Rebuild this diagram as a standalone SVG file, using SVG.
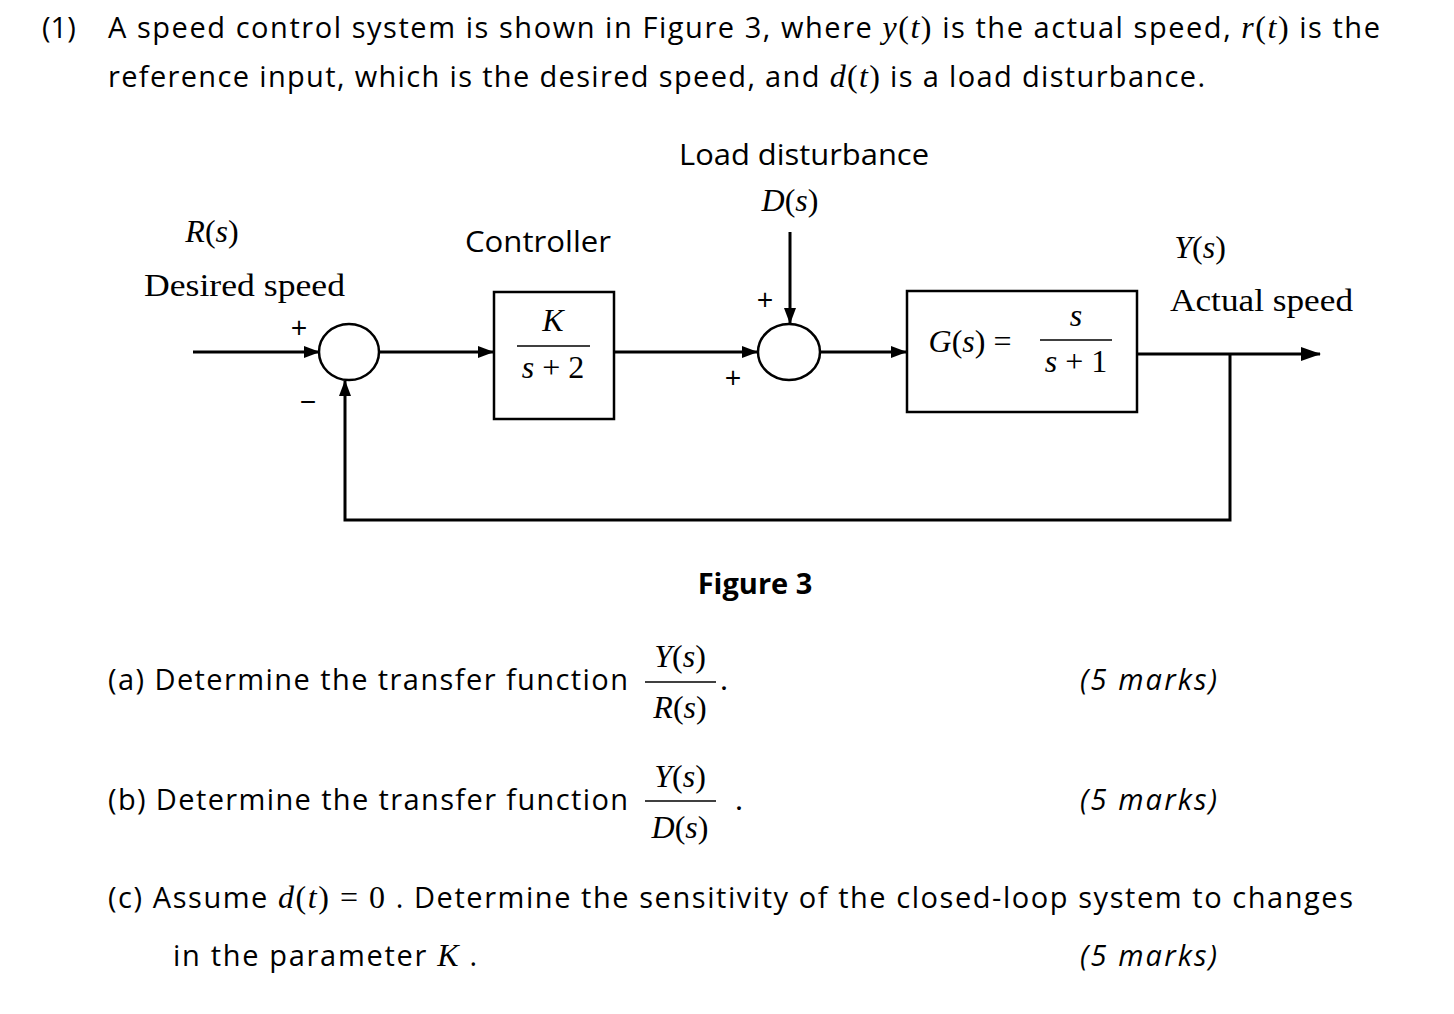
<svg xmlns="http://www.w3.org/2000/svg" width="1454" height="1014" viewBox="0 0 1454 1014">
<style>
.t{font-family:"Open Sans","Liberation Sans",sans-serif;font-size:29px;fill:#000}
.m{font-family:"Liberation Serif",serif;font-size:32px;fill:#000}
.i{font-style:italic}
.ln{stroke:#000;stroke-width:3;fill:none}
.bx{stroke:#000;stroke-width:2.5;fill:#fff}
</style>
<defs><marker id="a" markerWidth="16" markerHeight="12" refX="15" refY="6" orient="auto" markerUnits="userSpaceOnUse" viewBox="0 0 16 12"><path d="M0,0L16,6L0,12z" fill="#000"/></marker>
<marker id="b" markerWidth="20" markerHeight="14" refX="19" refY="7" orient="auto" markerUnits="userSpaceOnUse" viewBox="0 0 20 14"><path d="M0,0L20,7L0,14z" fill="#000"/></marker></defs>
<rect width="1454" height="1014" fill="#fff"/>
<text class="t" x="42" y="38">(1)</text>
<text class="t" x="108" y="38" textLength="1272" lengthAdjust="spacing">A speed control system is shown in Figure 3, where  <tspan class="m i">y</tspan><tspan class="m">(</tspan><tspan class="m i">t</tspan><tspan class="m">)</tspan>  is the actual speed,  <tspan class="m i">r</tspan><tspan class="m">(</tspan><tspan class="m i">t</tspan><tspan class="m">)</tspan>  is the</text>
<text class="t" x="108" y="87" textLength="1097" lengthAdjust="spacing">reference input, which is the desired speed, and  <tspan class="m i">d</tspan><tspan class="m">(</tspan><tspan class="m i">t</tspan><tspan class="m">)</tspan>  is a load disturbance.</text>
<g id="connectors">
<line class="ln" x1="193" y1="352" x2="319" y2="352" marker-end="url(#a)"/>
<line class="ln" x1="379" y1="352" x2="493" y2="352" marker-end="url(#a)"/>
<line class="ln" x1="614" y1="352" x2="757" y2="352" marker-end="url(#a)"/>
<line class="ln" x1="790" y1="232" x2="790" y2="323" marker-end="url(#a)"/>
<line class="ln" x1="820" y1="352" x2="906" y2="352" marker-end="url(#a)"/>
<line class="ln" x1="1137" y1="354" x2="1320" y2="354" marker-end="url(#b)"/>
<polyline class="ln" points="1230,354 1230,520 345,520 345,381" marker-end="url(#a)"/>
</g>
<g id="sum1"><ellipse class="bx" cx="349" cy="352" rx="30" ry="28"/><text class="t" x="299" y="338" text-anchor="middle" font-size="22">+</text><text class="t" x="308" y="412" text-anchor="middle" font-size="24">−</text></g>
<g id="controller"><rect class="bx" x="494" y="292" width="120" height="127"/>
<text class="m i" x="553" y="331" text-anchor="middle">K</text><line x1="517" y1="346" x2="590" y2="346" stroke="#000" stroke-width="1.5"/><text class="m" x="553" y="378" text-anchor="middle"><tspan class="i">s</tspan> + 2</text>
<text class="t" x="465" y="252" textLength="146" lengthAdjust="spacingAndGlyphs">Controller</text></g>
<g id="sum2"><ellipse class="bx" cx="789" cy="352" rx="31" ry="28"/><text class="t" x="733" y="388" text-anchor="middle" font-size="22">+</text><text class="t" x="765" y="310" text-anchor="middle" font-size="22">+</text></g>
<g id="disturbance"><text class="t" x="679" y="165" textLength="250" lengthAdjust="spacingAndGlyphs">Load disturbance</text><text class="m" x="790" y="211" text-anchor="middle"><tspan class="i">D</tspan>(<tspan class="i">s</tspan>)</text></g>
<g id="plant"><rect class="bx" x="907" y="291" width="230" height="121"/>
<text class="m" x="970" y="352" text-anchor="middle"><tspan class="i">G</tspan>(<tspan class="i">s</tspan>) =</text><text class="m i" x="1076" y="326" text-anchor="middle">s</text><line x1="1040" y1="340" x2="1112" y2="340" stroke="#000" stroke-width="1.5"/><text class="m" x="1076" y="372" text-anchor="middle"><tspan class="i">s</tspan> + 1</text></g>
<g id="input"><text class="m" x="212" y="242" text-anchor="middle"><tspan class="i">R</tspan>(<tspan class="i">s</tspan>)</text><text class="m" x="144" y="296" textLength="201" lengthAdjust="spacingAndGlyphs">Desired speed</text></g>
<g id="output"><text class="m" x="1200" y="258" text-anchor="middle"><tspan class="i">Y</tspan>(<tspan class="i">s</tspan>)</text><text class="m" x="1170" y="311" textLength="183" lengthAdjust="spacingAndGlyphs">Actual speed</text></g>
<text class="t" x="755" y="594" text-anchor="middle" font-weight="bold">Figure 3</text>
<text class="t" x="108" y="690" textLength="520" lengthAdjust="spacing">(a)  Determine the transfer function</text>
<text class="m" x="680" y="667" text-anchor="middle"><tspan class="i">Y</tspan>(<tspan class="i">s</tspan>)</text><line x1="645" y1="682" x2="716" y2="682" stroke="#000" stroke-width="1.5"/><text class="m" x="680" y="718" text-anchor="middle"><tspan class="i">R</tspan>(<tspan class="i">s</tspan>)</text><text class="m" x="720" y="690">.</text>
<text class="t i" x="1080" y="690" textLength="137">(5 marks)</text>
<text class="t" x="108" y="810" textLength="520" lengthAdjust="spacing">(b)  Determine the transfer function</text>
<text class="m" x="680" y="787" text-anchor="middle"><tspan class="i">Y</tspan>(<tspan class="i">s</tspan>)</text><line x1="645" y1="801" x2="716" y2="801" stroke="#000" stroke-width="1.5"/><text class="m" x="680" y="838" text-anchor="middle"><tspan class="i">D</tspan>(<tspan class="i">s</tspan>)</text><text class="m" x="735" y="810">.</text>
<text class="t i" x="1080" y="810" textLength="137">(5 marks)</text>
<text class="t" x="108" y="908" textLength="1245" lengthAdjust="spacing">(c)  Assume  <tspan class="m i">d</tspan><tspan class="m">(</tspan><tspan class="m i">t</tspan><tspan class="m">) = 0</tspan> .  Determine the sensitivity of the closed-loop system to changes</text>
<text class="t" x="173" y="966" textLength="304" lengthAdjust="spacing">in the parameter  <tspan class="m i">K</tspan> .</text>
<text class="t i" x="1080" y="966" textLength="137">(5 marks)</text>
</svg>
